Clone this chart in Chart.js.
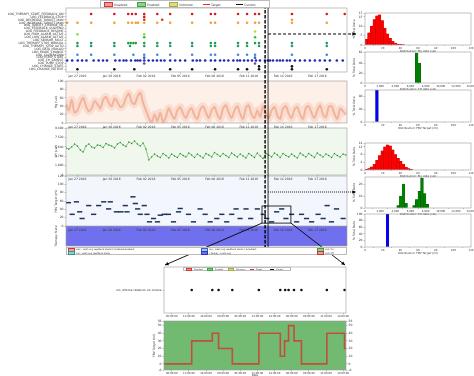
<!DOCTYPE html>
<html>
<head>
<meta charset="utf-8">
<script src="https://cdn.jsdelivr.net/npm/chart.js@4.4.1/dist/chart.umd.min.js"></script>
<style>
html, body { margin: 0; padding: 0; background: #fff; }
body { width: 474px; height: 376px; position: relative; overflow: hidden; font-family: 'DejaVu Sans', sans-serif; }
canvas { position: absolute; }
.lg { position: absolute; border: 0.5px solid #bbb; background: #fff; color: #333; white-space: nowrap; box-sizing: border-box; }
.it { position: absolute; display: flex; align-items: center; }
.pt { display: inline-block; margin-right: 1.5px; }
</style>
</head>
<body>
<script>
// ---- main time axis (days from Jan 26 2016) ----
const dayTicks = [1, 4, 7, 10, 13, 16, 19, 22];
const dayTickLabels = ['Jan 27 2016', 'Jan 30 2016', 'Feb 02 2016', 'Feb 05 2016', 'Feb 08 2016', 'Feb 11 2016', 'Feb 14 2016', 'Feb 17 2016'];
const dayMax = 24.6;

// ---- event log rows ----
const eventRows = [
    'LOG_THERAPY_START_FEEDBACK_ON', 'LOG_FEEDBACK_STOP', 'LOG_DECREASE_TARGET_MAN', 'LOG_INCREASE_TARGET_MAN',
    'LOG_TARGET_CHANGE_OK', 'LOG_FEEDBACK_SUSPEND', 'LOG_FEEDBACK_RESUME', 'LOG_HIGH_ALARM_ACTIVE',
    'LOG_LOW_ALARM_ACTIVE', 'LOG_SENSOR_FAULT', 'LOG_THERAPY_STOP_MANUAL', 'LOG_THERAPY_STOP_AUTO',
    'LOG_DATA_INVALID', 'LOG_MODE_CHANGE', 'LOG_CALIBRATION', 'LOG_PUMP_START',
    'LOG_CH_SAMPLE', 'LOG_PUMP_STOP', 'LOG_CHANGE_STATE', 'LOG_CHANGE_PATIENT'
];
const evRow0 = [2.2, 4.23, 5.45, 5.78, 6.11, 6.85, 7.99, 9.12, 11.04, 12.68, 13.05, 15.06, 15.85, 16.55, 16.9, 19.78, 22.83, 24.4];
const evRow1 = [6.85];
const evRow2 = [6.85, 8.42];
const evRow2b = [19.78];
const evRow3 = [0.1, 1.0, 2.2, 4.23, 5.45, 5.78, 6.11, 6.3, 6.85, 7.99, 9.12, 11.04, 12.68, 13.05, 15.06, 15.85, 16.55, 16.9, 19.78, 22.83];
const evRow6 = [16.55];
const evRow7 = [1.0, 6.85];
const evRow8 = [6.85, 16.55];
const evRow10 = [1.0, 2.2, 4.23, 5.45, 5.67, 5.9, 6.11, 6.85, 7.99, 9.12, 11.04, 12.68, 13.05, 15.06, 15.85, 16.55, 16.9, 19.78, 22.83];
const evRow11 = [1.0, 2.2, 4.23, 5.6, 6.85, 7.99, 9.12, 11.04, 12.68, 13.05, 15.06, 15.85, 16.9, 19.78, 22.83];
const evRow14 = [1.0, 2.2, 4.23, 5.9, 6.85, 7.99, 9.12, 11.04, 12.68, 13.05, 15.06, 15.85, 16.55, 19.78, 22.83];
const evRow15 = [6.85, 16.55];
const evRow16 = [0.10, 0.54, 1.03, 1.41, 1.79, 2.42, 2.86, 3.24, 3.59, 4.32, 4.69, 5.04, 5.28, 5.69, 6.07, 6.27, 6.50, 6.85,
    7.23, 7.61, 7.96, 8.31, 8.62, 9.12, 9.56, 9.99, 10.43, 11.10, 11.45, 11.74, 12.18, 12.68, 13.05, 13.49, 13.84, 14.21,
    14.65, 15.00, 15.24, 15.59, 15.93, 16.28, 16.63, 16.98, 17.42, 17.68, 17.86, 18.12, 18.47, 18.73, 18.99, 19.34, 19.60,
    20.04, 20.48, 20.91, 21.35, 21.79, 22.22, 22.66, 23.10, 23.71, 24.23];
const evRow17 = [6.85, 16.55];
const evRow18 = [16.9, 19.78];
const evRow19 = [1.0, 4.23, 5.98, 9.12, 11.04, 13.05, 15.06, 15.85, 16.9, 19.78, 22.83];

// ---- Mg and CH signals, one sample every 6 h ----
const sampleStep = 0.25;
const mgVals = [45, 30, 55, 25, 30, 48, 60, 40, 28, 35, 52, 45, 35, 55, 62, 48, 40, 58, 50, 38, 42, 60, 70, 50,
    45, 62, 72, 48, 30, 12, 2, 20, 5, 25, 2, 15, 35, 20, 10, 30, 38, 22, 12, 28, 35, 18, 10, 32, 40, 25, 12, 30,
    38, 20, 10, 35, 42, 24, 12, 30, 40, 22, 10, 36, 42, 20, 12, 30, 15, 40, 22, 12, 30, 38, 18, 10, 35, 40, 22, 12,
    32, 38, 20, 10, 36, 40, 24, 12, 30, 42, 20, 14, 38, 40, 22, 10, 34, 28, 20];
const chVals = [5400, 5200, 5600, 6200, 5800, 5000, 4600, 5800, 6200, 5600, 5400, 6000, 5900, 5500, 6300, 6000,
    5800, 5400, 6200, 6500, 6000, 5700, 6600, 6300, 6800, 6200, 5800, 6400, 5200, 3000, 3600, 4200,
    3800, 3500, 4300, 3900, 3400, 4200, 3800, 3500, 4300, 3900, 3600, 4400, 4000, 3500, 4200, 3800,
    3400, 4300, 4000, 3600, 4500, 4100, 3700, 4300, 3900, 3500, 4400, 4000, 3600, 4200, 3800, 3400,
    4300, 3900, 3500, 4400, 3800, 3300, 4300, 4000, 3600, 4400, 4000, 3500, 4300, 3900, 3600, 4200,
    3800, 3400, 4400, 4000, 3600, 4300, 3900, 3500, 4400, 4000, 3600, 4200, 3900, 3500, 4300, 3900,
    3600, 4200, 4000];

// ---- FBV target ----
const tgDays = [0.21, 0.54, 0.91, 1.20, 1.41, 1.99, 2.42, 2.86, 3.30, 3.73, 3.88, 4.41, 4.82, 5.19, 5.34, 5.86, 6.07,
    6.27, 6.50, 6.85, 7.09, 7.31, 7.66, 8.01, 8.25, 8.60, 8.97, 9.41, 9.85, 10.0, 10.72, 11.16, 11.74, 12.18, 12.62,
    13.20, 13.64, 14.07, 14.51, 14.89, 15.24, 15.76, 16.17, 16.75, 17.27, 17.57, 18.00, 18.44, 18.88, 19.25, 19.75,
    20.19, 20.62, 21.06, 21.50, 22.07, 22.51, 22.86, 23.24, 23.68, 24.26];
const tgVals = [56, 28, 58, 34, 18, 49, 28, 49, 58, 41, 58, 34, 34, 49, 34, 70, 54, 41, 28, 49, 28, 10, 18, 10, 26,
    28, 28, 10, 34, 42, 28, 10, 41, 28, 10, 18, 28, 10, 28, 41, 18, 41, 18, 41, 28, 18, 10, 34, 41, 18, 28,
    10, 28, 18, 10, 28, 18, 49, 10, 41, 18];

// ---- therapy state ----
const therapyDays = [0, 24.6];
const therapyState = [1, 1];

// ---- histograms (40 bins each) ----
const hMg1 = [3.0, 6.5, 10.0, 13.5, 15.5, 16.0, 13.0, 9.0, 6.0, 3.5, 2.0, 1.0, 0.5, 0.3, 0.2, 0, 0, 0, 0, 0,
    0, 0, 0, 0, 0, 0, 0, 0, 0, 0, 0, 0, 0, 0, 0, 0, 0, 0, 0, 0];
const hCh1 = [0, 0, 0, 0, 0, 0, 0, 0, 0, 0, 0, 0, 0, 0, 0, 0, 0, 0, 0, 60, 40, 0, 0, 0, 0, 0, 0, 0, 0, 0,
    0, 0, 0, 0, 0, 0, 0, 0, 0, 0];
const hTg1 = [0, 0, 0, 0, 100, 0, 0, 0, 0, 0, 0, 0, 0, 0, 0, 0, 0, 0, 0, 0, 0, 0, 0, 0, 0, 0, 0, 0, 0, 0,
    0, 0, 0, 0, 0, 0, 0, 0, 0, 0];
const hMg2 = [0.3, 0.8, 1.6, 3.0, 5.0, 7.5, 10.0, 12.0, 13.0, 12.5, 10.5, 8.0, 6.0, 4.5, 3.0, 1.5, 0.8, 0.3, 0, 0,
    0, 0, 0, 0, 0, 0, 0, 0, 0, 0, 0, 0, 0, 0, 0, 0, 0, 0, 0, 0];
const hCh2 = [0, 0, 0, 0, 0, 0, 0, 0, 0, 0, 0, 0, 2, 10, 20, 4, 0, 0, 2, 7, 14, 25, 12, 3, 0, 0, 0, 0, 0, 0,
    0, 0, 0, 0, 0, 0, 0, 0, 0, 0];
const hTg2 = [0, 0, 0, 0, 0, 0, 0, 0, 100, 0, 0, 0, 0, 0, 0, 0, 0, 0, 0, 0, 0, 0, 0, 0, 0, 0, 0, 0, 0, 0,
    0, 0, 0, 0, 0, 0, 0, 0, 0, 0];

// ---- zoomed window (hours from Feb 12 00:00) ----
const zoomTicks = [6, 12, 18, 24, 30, 36, 42, 48, 54, 60, 66];
const zoomTickLabels = ['06:00:00', '12:00:00', '18:00:00', '00:00:00', '06:00:00', '12:00:00', '18:00:00', '00:00:00', '06:00:00', '12:00:00', '18:00:00'];
const zoomRow = 'LOG_IMPROVE_FEEDBACK_ON_CHANGE';
const zoomEvents = [13.0, 20.2, 22.4, 27.2, 36.5, 44.0, 45.7, 46.9, 48.8, 51.4, 60.3, 66.5];
const zoomStepHours = [3.3, 13.0, 20.2, 22.4, 27.2, 36.5, 44.0, 45.5, 46.9, 48.8, 51.4, 60.3, 66.5, 67];
const zoomTarget = [0, 30, 40, 20, 0, 40, 10, 30, 50, 30, 0, 40, 20, 20];

Chart.defaults.font.family = "'DejaVu Sans', sans-serif";
Chart.defaults.font.size = 3;
Chart.defaults.color = '#333';
Chart.defaults.animation = false;
Chart.defaults.responsive = false;
Chart.defaults.events = [];
Chart.defaults.plugins.legend.display = false;
Chart.defaults.plugins.tooltip.enabled = false;

// background + box around each plot area
Chart.register({
    id: 'frame',
    beforeDraw(chart, args, o) {
        const a = chart.chartArea;
        if (o.bg) {
            chart.ctx.save();
            chart.ctx.fillStyle = o.bg;
            chart.ctx.fillRect(a.left, a.top, a.width, a.height);
            chart.ctx.restore();
        }
    },
    afterDraw(chart, args, o) {
        const a = chart.chartArea, ctx = chart.ctx;
        ctx.save();
        ctx.strokeStyle = o.border || '#999';
        ctx.lineWidth = 0.6;
        ctx.strokeRect(a.left, a.top, a.width, a.height);
        ctx.restore();
    }
});

// small tick marks only, no grid lines inside the plots
const tickGrid = { drawOnChartArea: false, tickLength: 1.5, color: '#666', lineWidth: 0.4 };
const noGrid = { display: false, drawTicks: false };

const PAD = 8;
function panel(area, ax, config) {
    const c = document.createElement('canvas');
    const w = area.r - area.l + ax.l + (ax.r || 0) + 2 * PAD;
    const h = area.b - area.t + ax.b + 2 * PAD;
    c.width = w; c.height = h;
    c.style.left = (area.l - ax.l - PAD) + 'px';
    c.style.top = (area.t - PAD) + 'px';
    c.style.width = w + 'px';
    c.style.height = h + 'px';
    document.body.appendChild(c);
    config.options.layout = { padding: PAD };
    return new Chart(c, config);
}

function dayAxis(h, show) {
    return {
        type: 'linear', min: 0, max: dayMax, display: show,
        afterBuildTicks: s => { s.ticks = dayTicks.map(v => ({ value: v })); },
        afterFit: s => { s.height = h; },
        ticks: { autoSkip: false, maxRotation: 0, padding: 0.8, callback: (v, i) => dayTickLabels[i] },
        grid: tickGrid, border: { display: false }
    };
}
function valAxis(w, min, max, step, title, showTicks) {
    return {
        type: 'linear', min: min, max: max,
        afterFit: s => { s.width = w; },
        ticks: { display: showTicks !== false, stepSize: step, padding: 1 },
        title: { display: !!title, text: title, padding: 0 },
        grid: showTicks === false ? noGrid : tickGrid, border: { display: false }
    };
}
const pts = (xs, ys) => xs.map((x, i) => ({ x: x, y: ys[i] }));
const series = vals => vals.map((v, i) => ({ x: i * sampleStep, y: v }));

// therapy state (drawn first so the target panel labels sit above it)
const p5 = panel({ l: 66, t: 226, r: 347, b: 246 }, { l: 12, b: 0 }, {
    type: 'line',
    data: { datasets: [{ data: pts(therapyDays, therapyState), fill: 'origin', backgroundColor: 'rgb(112,112,238)', borderWidth: 0, pointRadius: 0 }] },
    options: { scales: { x: dayAxis(0, false), y: valAxis(12, 0, 1, 1, 'Therapy State', false) }, plugins: { frame: { border: '#999' } } }
});

const p4 = panel({ l: 66, t: 176, r: 347, b: 226 }, { l: 12, b: 6 }, {
    type: 'scatter',
    data: { datasets: [{ data: pts(tgDays, tgVals), pointStyle: 'line', pointRadius: 2.6, borderWidth: 1.5, borderColor: '#1f3358' }] },
    options: { scales: { x: dayAxis(6, true), y: valAxis(12, 0, 120, 20, 'FBV Target (ml)') }, plugins: { frame: { bg: '#f3f7fd' } } }
});

const p3 = panel({ l: 66, t: 128, r: 347, b: 175 }, { l: 12, b: 8 }, {
    type: 'line',
    data: { datasets: [{ data: series(chVals), borderColor: 'rgba(50,150,50,0.7)', borderWidth: 0.8, pointRadius: 0.7, pointBackgroundColor: '#2a8a2a', pointBorderWidth: 0 }] },
    options: { scales: { x: dayAxis(8, true), y: valAxis(12, 0, 9400, 2000, 'CH (val)') }, plugins: { frame: { bg: '#f0f8ee' } } }
});

const p2 = panel({ l: 66, t: 81, r: 347, b: 123 }, { l: 12, b: 8 }, {
    type: 'line',
    data: {
        datasets: [
            { data: series(mgVals), borderColor: 'rgba(240,140,100,0.18)', borderWidth: 8, pointRadius: 0, tension: 0.3 },
            { data: series(mgVals), borderColor: 'rgba(228,112,72,0.4)', borderWidth: 2, pointRadius: 0, tension: 0.3 }
        ]
    },
    options: { scales: { x: dayAxis(8, true), y: valAxis(12, 0, 100, 20, 'Mg (val)') }, plugins: { frame: { bg: '#fdf0e8' } } }
});

const eventSets = [
    { row: 0, color: '#d7191c', days: evRow0 }, { row: 1, color: '#d7191c', days: evRow1 },
    { row: 2, color: '#e03020', days: evRow2 }, { row: 2, color: '#f0a030', days: evRow2b },
    { row: 3, color: '#f0a030', days: evRow3 }, { row: 6, color: '#b5dc3c', days: evRow6 },
    { row: 7, color: '#8ede4a', days: evRow7 }, { row: 8, color: '#3cb44a', days: evRow8 },
    { row: 10, color: '#22a040', days: evRow10 }, { row: 11, color: '#1f9c7a', days: evRow11 },
    { row: 14, color: '#3a8ad8', days: evRow14 }, { row: 15, color: '#2a5ad0', days: evRow15 },
    { row: 16, color: '#1c28b0', days: evRow16 }, { row: 17, color: '#7b3fa0', days: evRow17 },
    { row: 18, color: '#111', days: evRow18 }, { row: 19, color: '#111', days: evRow19 }
];
const p1 = panel({ l: 66, t: 8, r: 347, b: 72 }, { l: 66, b: 9 }, {
    type: 'scatter',
    data: {
        datasets: eventSets.map(s => ({
            data: s.days.map(d => ({ x: d, y: s.row })), backgroundColor: s.color, borderColor: s.color,
            pointRadius: 1.3, borderWidth: 0
        }))
    },
    options: {
        scales: {
            x: dayAxis(9, true),
            y: {
                type: 'linear', reverse: true, min: -2.06, max: 19.93,
                afterBuildTicks: s => { s.ticks = eventRows.map((n, i) => ({ value: i })); },
                afterFit: s => { s.width = 66; },
                ticks: { autoSkip: false, padding: 1, callback: (v, i) => eventRows[i] },
                grid: tickGrid, border: { display: false }
            }
        },
        plugins: { frame: { border: '#999' } }
    }
});

// histograms
function hist(t, b, bins, binW, xmax, xstep, ymax, ystep, color, edge, xtitle) {
    return panel({ l: 365, t: t, r: 471, b: b }, { l: 13, b: 8 }, {
        type: 'bar',
        data: {
            datasets: [{
                data: bins.map((v, i) => ({ x: (i + 0.5) * binW, y: v })), backgroundColor: color,
                borderColor: edge, borderWidth: 0.3, barPercentage: 1, categoryPercentage: 1
            }]
        },
        options: {
            scales: {
                x: {
                    type: 'linear', min: 0, max: xmax, offset: false, afterFit: s => { s.height = 8; },
                    ticks: { stepSize: xstep, padding: 0.3, maxRotation: 0, font: { size: 2.6 } },
                    title: { display: true, text: xtitle, padding: 0, font: { size: 2.8 } },
                    grid: { drawOnChartArea: false, tickLength: 1, color: '#666', lineWidth: 0.4 }, border: { display: false }
                },
                y: valAxis(13, 0, ymax, ystep, '% Total Data')
            },
            plugins: { frame: { border: '#999' } }
        }
    });
}
hist(13, 45, hMg1, 3, 120, 20, 17, 5, '#ff0000', '#900', 'Distribution: Mg data (val)');
hist(52, 83, hCh1, 350, 14000, 2000, 62, 20, '#008000', '#040', 'Distribution: CH data (val)');
hist(90, 122, hTg1, 3, 120, 20, 100, 20, '#0000ff', '#003', 'Distribution: FBV Target (ml)');
hist(143, 170, hMg2, 3, 120, 20, 14, 4, '#ff0000', '#900', 'Distribution: Mg data (val)');
hist(177, 208, hCh2, 350, 14000, 2000, 26, 5, '#008000', '#040', 'Distribution: CH data (val)');
hist(214, 247, hTg2, 3, 120, 20, 100, 20, '#0000ff', '#003', 'Distribution: FBV Target (ml)');

// zoomed window
function zoomAxis(h, title) {
    return {
        type: 'linear', min: 3.3, max: 67,
        afterBuildTicks: s => { s.ticks = zoomTicks.map(v => ({ value: v })); },
        afterFit: s => { s.height = h; },
        ticks: { autoSkip: false, maxRotation: 0, padding: 0.6, font: { size: 2.6 }, callback: (v, i) => zoomTickLabels[i] },
        title: { display: !!title, text: title, padding: 0, font: { size: 2.8 } },
        grid: tickGrid, border: { display: false }
    };
}
const z1 = panel({ l: 164, t: 267, r: 346, b: 313 }, { l: 50, b: 6 }, {
    type: 'scatter',
    data: { datasets: [{ data: zoomEvents.map(h => ({ x: h, y: 0 })), backgroundColor: '#111', pointRadius: 1.3, borderWidth: 0 }] },
    options: {
        scales: {
            x: zoomAxis(6),
            y: {
                type: 'linear', min: -1, max: 1, afterFit: s => { s.width = 50; },
                afterBuildTicks: s => { s.ticks = [{ value: 0 }]; },
                ticks: { padding: 1, font: { size: 2.3 }, callback: () => zoomRow },
                grid: tickGrid, border: { display: false }
            }
        },
        plugins: { frame: { border: '#999' } }
    }
});
const z2 = panel({ l: 164, t: 321, r: 346, b: 370 }, { l: 12, r: 8, b: 7 }, {
    type: 'line',
    data: { datasets: [{ data: pts(zoomStepHours, zoomTarget), stepped: true, borderColor: '#c0503a', borderWidth: 1.6, pointRadius: 0 }] },
    options: {
        scales: {
            x: zoomAxis(7, 'Date'),
            y: valAxis(12, -8, 56, 10, 'FBV Target (ml)'),
            y2: Object.assign(valAxis(8, -8, 56, 10, ''), { position: 'right' })
        },
        plugins: { frame: { bg: '#72ba72', border: '#999' } }
    }
});

// ---- annotations: markers, zoom box, arrows ----
const ov = document.createElement('canvas');
ov.width = 474; ov.height = 376;
ov.style.left = '0px'; ov.style.top = '0px';
document.body.appendChild(ov);
const g = ov.getContext('2d');
const px = (ch, v) => ch.canvas.offsetLeft + ch.scales.x.getPixelForValue(v);
const py = (ch, v, ax) => ch.canvas.offsetTop + ch.scales[ax || 'y'].getPixelForValue(v);

function arrowHead(x0, y0, x1, y1, size) {
    const a = Math.atan2(y1 - y0, x1 - x0);
    g.save();
    g.setLineDash([]);
    g.beginPath();
    g.moveTo(x1, y1);
    g.lineTo(x1 - size * Math.cos(a - 0.45), y1 - size * Math.sin(a - 0.45));
    g.lineTo(x1 - size * Math.cos(a + 0.45), y1 - size * Math.sin(a + 0.45));
    g.closePath();
    g.fill();
    g.restore();
}
function line(x0, y0, x1, y1, w, dash, head) {
    g.save();
    g.strokeStyle = '#000'; g.fillStyle = '#000';
    g.lineWidth = w;
    g.setLineDash(dash || []);
    g.beginPath(); g.moveTo(x0, y0); g.lineTo(x1, y1); g.stroke();
    if (head) arrowHead(x0, y0, x1, y1, head);
    g.restore();
}
const xMark = px(p1, 17.43), xNow = px(p1, 17.69);
line(xMark, 0, xMark, 255, 1.4, [3.5, 1.5]);
line(xNow, 0, xNow, 255, 0.8);
line(xNow, 34, 356, 34, 1.1, [3, 2], 4);
line(xNow, 192, 356, 192, 0.9, [1, 1], 4);

const bx0 = px(p4, 17.16), bx1 = px(p4, 19.69), by0 = py(p4, 48), by1 = py(p4, 7);
g.strokeStyle = '#000'; g.lineWidth = 0.8;
g.strokeRect(bx0, by0, bx1 - bx0, by1 - by0);
const za = z1.chartArea, zl = z1.canvas.offsetLeft, zt = z1.canvas.offsetTop;
line(bx0, by1, zl + za.left + 1, zt + za.top - 2, 0.9, null, 4);
line(bx1, by1, zl + za.right - 1, zt + za.top - 2, 0.9, null, 4);

// ---- legends ----
function legend(box, fs, items) {
    const d = document.createElement('div');
    d.className = 'lg';
    Object.assign(d.style, { left: box.l + 'px', top: box.t + 'px', width: box.w + 'px', height: box.h + 'px', fontSize: fs + 'px' });
    items.forEach(it => {
        const s = document.createElement('div');
        s.className = 'it';
        s.style.left = it.x + 'px'; s.style.top = it.y + 'px'; s.style.height = fs * 1.4 + 'px';
        const p = document.createElement('span');
        p.className = 'pt';
        Object.assign(p.style, it.line
            ? { width: fs * 2.2 + 'px', height: '0px', borderTop: '0.7px solid ' + it.color }
            : { width: fs * 2.2 + 'px', height: fs * 0.8 + 'px', background: it.color, border: '0.3px solid ' + (it.edge || it.color) });
        s.appendChild(p);
        s.appendChild(document.createTextNode(it.text));
        d.appendChild(s);
    });
    document.body.appendChild(d);
}
legend({ l: 100, t: 0, w: 170, h: 8 }, 3, [
    { x: 3, y: 1.5, color: '#f19a9a', edge: '#d33', text: 'Disabled' },
    { x: 36, y: 1.5, color: '#8fcf8f', edge: '#3a3', text: 'Enabled' },
    { x: 68, y: 1.5, color: '#d8dc8c', edge: '#aa4', text: 'Unknown' },
    { x: 102, y: 1.5, color: '#e03030', line: true, text: 'Target' },
    { x: 135, y: 1.5, color: '#111', line: true, text: 'Current' }
]);
legend({ l: 183, t: 266.5, w: 108, h: 4 }, 2, [
    { x: 2, y: 0.6, color: '#f19a9a', edge: '#d33', text: 'Disabled' },
    { x: 23, y: 0.6, color: '#8fcf8f', edge: '#3a3', text: 'Enabled' },
    { x: 44, y: 0.6, color: '#d8dc8c', edge: '#aa4', text: 'Unknown' },
    { x: 66, y: 0.6, color: '#e03030', line: true, text: 'Target' },
    { x: 86, y: 0.6, color: '#111', line: true, text: 'Current' }
]);
legend({ l: 66, t: 246.5, w: 281, h: 8.5 }, 2.2, [
    { x: 1, y: 0.6, color: '#f4a0a0', edge: '#c33', text: 'FBV : Fresh Log Feedback Mode 0 (Disabled/Enabled)' },
    { x: 1, y: 4.2, color: '#8fd0c8', edge: '#399', text: 'CH : Fresh Log Feedback Mode' },
    { x: 134, y: 0.6, color: '#a0c8f0', edge: '#36c', text: 'Mg : Fresh Log Feedback Mode 1 (Enabled)' },
    { x: 134, y: 4.2, color: '#7070ee', edge: '#33c', text: 'Therapy : Fresh Log' },
    { x: 250, y: 0.6, color: '#8fcf8f', edge: '#3a3', text: 'Flsh On' },
    { x: 250, y: 4.2, color: '#f19a9a', edge: '#c33', text: 'Flsh Off' }
]);
</script>
</body>
</html>
